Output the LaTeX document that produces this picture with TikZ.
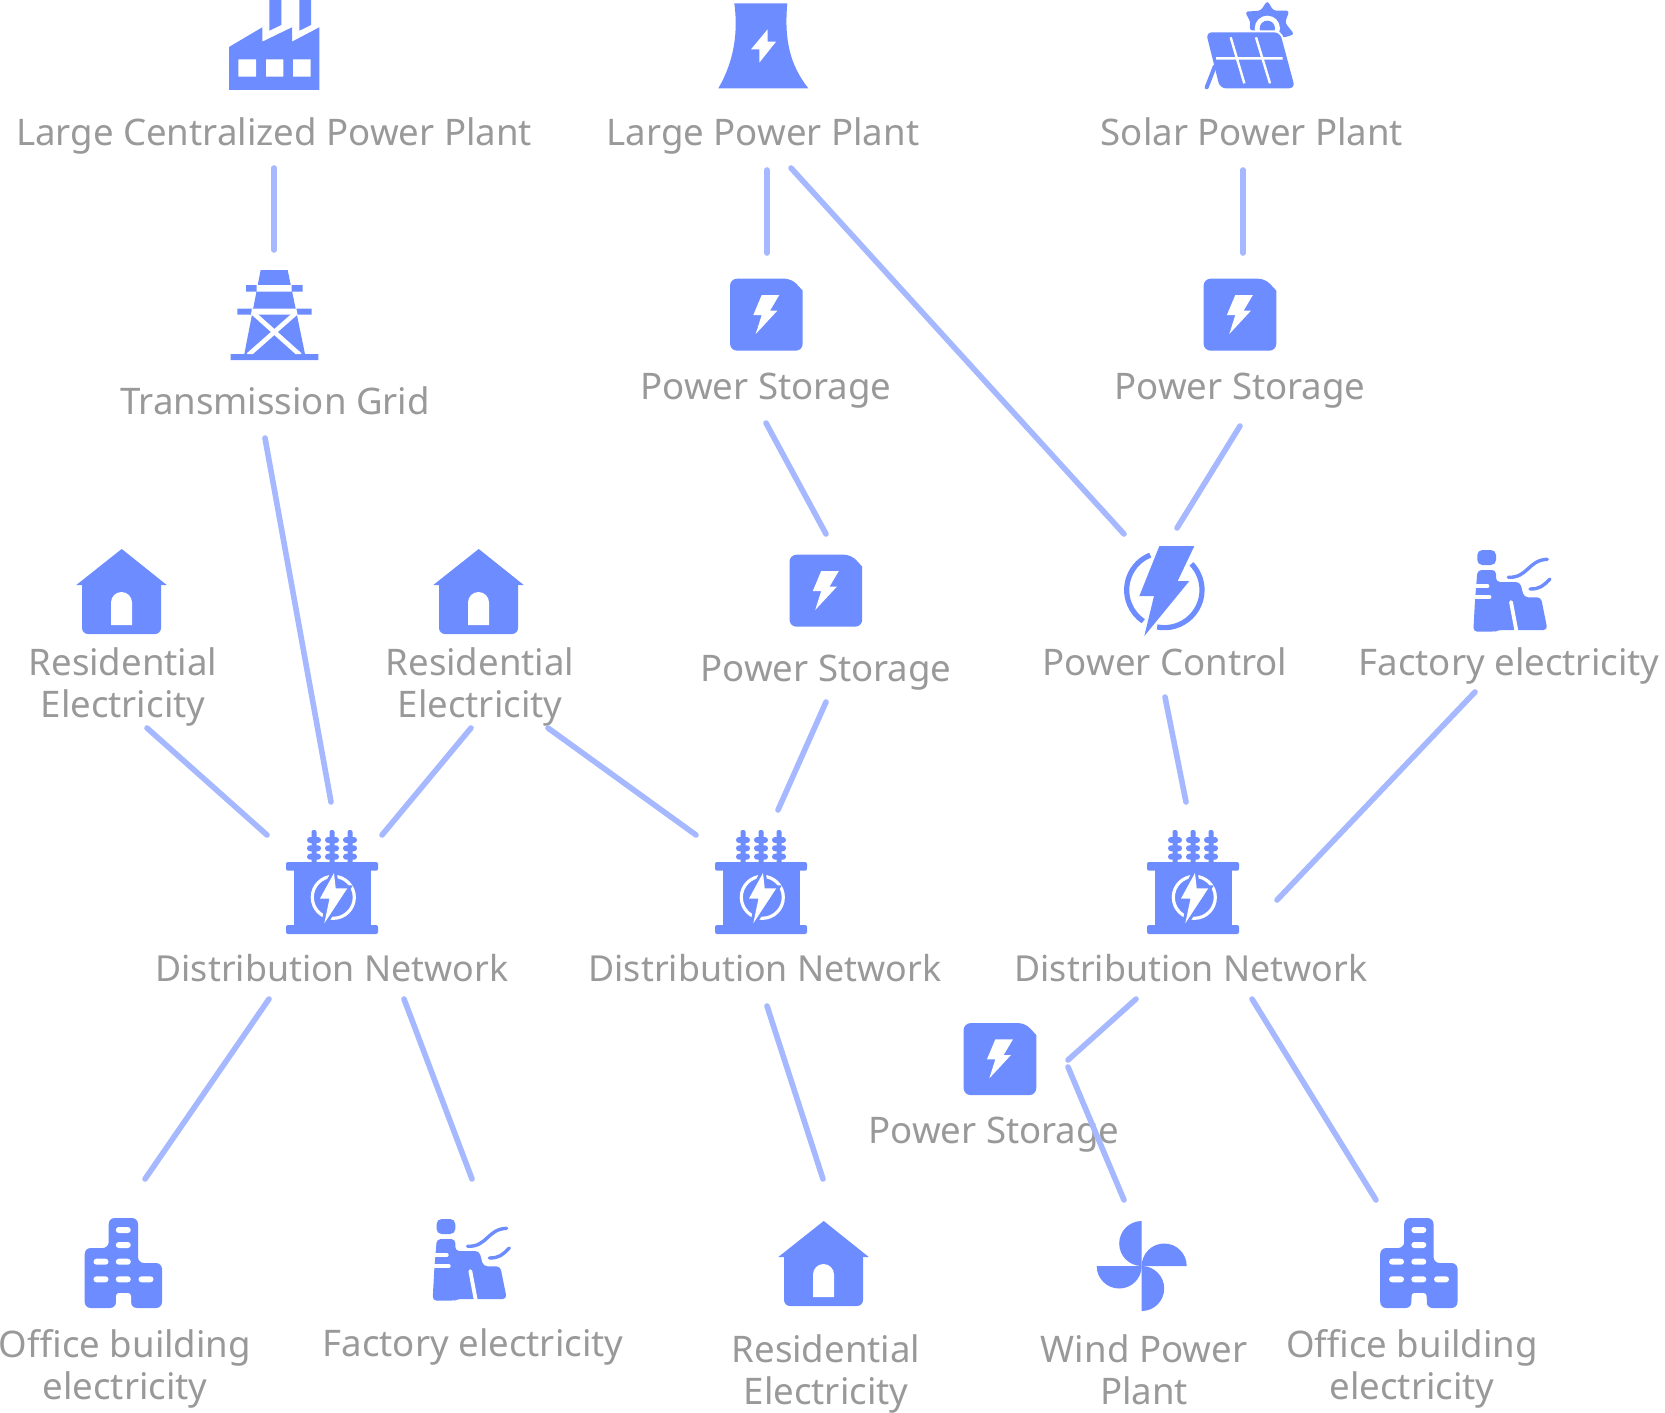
\documentclass[tikz,border=0pt]{standalone}
\usepackage{fontspec}
\setmainfont{Noto Sans}
\definecolor{iconblue}{HTML}{6C8CFF}
\definecolor{linkblue}{HTML}{A6B8FF}
\definecolor{labelgrey}{HTML}{999999}
\tikzset{
  x=0.5pt,y=-0.5pt,
  lbl/.style={text=labelgrey,align=center,inner sep=0pt,font=\fontsize{18.3}{21.2}\selectfont},
  link/.style={draw=linkblue,line width=2.8pt,line cap=round},
  bluefill/.style={fill=iconblue,draw=none},
  whitefill/.style={fill=white,draw=none},
  houseicon/.pic={
    \path[bluefill] (51.7,9)--(96.7,45)--(6.3,45)--cycle;
    \path[bluefill,rounded corners=3pt] (12,40)--(91,40)--(91,94)--(12,94)--cycle;
    \path[whitefill] (41,85)--(41,62.5) arc (180:360:10.5)--(62,85)--cycle;
  },
  buildingicon/.pic={
    \path[bluefill,rounded corners=3pt] (38.7,8)--(68,8)--(68,53)--(92,53)--(92,98)--(61,98)--(61,83)--(46,83)--(46,98)--(14.7,98)--(14.7,38)--(38.7,38)--cycle;
    \path[whitefill,rounded corners=1.5pt] (46,98.5) rectangle (61,83);
    \foreach \cx/\cy in {53.3/20,53.3/35,53.3/51.7,53.3/69.3,31/51.7,31/69.3,76/69.3}{
      \path[whitefill,rounded corners=1.5pt] (\cx-7.5,\cy-3) rectangle (\cx+7.5,\cy+3);
    }
  },
  transformericon/.pic={
    \foreach \cx in {44,62,80}{
      \path[bluefill,rounded corners=1pt] (\cx-2.5,10) rectangle (\cx+2.5,44);
      \foreach \cy in {20,28.3,36.7}{
        \path[bluefill,rounded corners=1.5pt] (\cx-7,\cy-3) rectangle (\cx+7,\cy+3);
      }
    }
    \path[bluefill,rounded corners=1pt] (16,42) rectangle (108,50.7);
    \path[bluefill,rounded corners=1pt] (16,105) rectangle (108,114);
    \path[bluefill] (24,44) rectangle (101,110);
    \draw[draw=white,line width=1.6pt] (63.3,77.3) circle[radius=21];
    \path[fill=iconblue,draw=iconblue,line width=3pt,miter limit=3] (64,53)--(50,78.5)--(59.5,78.5)--(54.3,103.3)--(77.3,68.3)--(65.7,68.3)--cycle;
    \path[whitefill] (64,53)--(50,78.5)--(59.5,78.5)--(54.3,103.3)--(77.3,68.3)--(65.7,68.3)--cycle;
  },
  storageicon/.pic={
    \path[bluefill,rounded corners=3.5pt] (10,8.7)--(71.7,8.7)[sharp corners]--(82.7,20.7)[rounded corners=3.5pt]--(82.7,80.7)--(10,80.7)--cycle;
    \path[whitefill] (41.7,25)--(59.3,25)--(50,40.7)--(57.3,40.7)--(35.7,64)--(41.7,45)--(33.3,45)--cycle;
  },
  factoryicon/.pic={
    \path[bluefill,rounded corners=2.5pt] (17.3,10) rectangle (36,25);
    \path[bluefill,rounded corners=2pt] (17.5,30)--(36,30)--(36,42)--(60,42)--(64,57.3)--(81,57.3)--(87.5,90)--(38,90)--(35,91.7)--(13.3,91.7)--(15,60)--cycle;
    \draw[draw=white,line width=1.9pt,line cap=round] (12,46)--(27.5,46);
    \draw[draw=white,line width=1.9pt,line cap=round] (12,57)--(29.5,57);
    \draw[draw=white,line width=1.9pt,line cap=round] (51,62)--(57,94);
    \draw[draw=iconblue,line width=1.7pt,line cap=round] (48.3,37.3) .. controls (68,38) and (68,20) .. (87.3,19.3);
    \draw[draw=iconblue,line width=1.7pt,line cap=round] (70,49) .. controls (80,49) and (83,46) .. (90,39);
  },
}
\begin{document}
\begin{tikzpicture}
\useasboundingbox (0,0) rectangle (1665,1413);

% large centralized plant
\begin{scope}[shift={(200,0)}]
  \path[bluefill] (29,47)--(62.3,27.3)--(62.3,41.7)--(92,27.3)--(92,41.7)--(119.3,27.3)--(119.3,90)--(29,90)--cycle;
  \path[whitefill] (38.3,59.3) rectangle (56,76.7) (66,59.3) rectangle (83.3,76.7) (93,59.3) rectangle (110.7,76.7);
  \path[bluefill] (69.3,0)--(81.3,0)--(81.3,25)--(69.3,30.7)--cycle;
  \path[bluefill] (99.3,0)--(111,0)--(111,25)--(99.3,30.7)--cycle;
\end{scope}

% cooling tower
\begin{scope}[shift={(700,0)}]
  \path[bluefill] (34.3,3.3)--(87.3,3.3) .. controls (84,40) and (90,65) .. (108.3,88.3)--(18.3,88.3) .. controls (35,60) and (38,30) .. (34.3,3.3)--cycle;
  \path[whitefill] (67.7,29.3)--(51,49.3)--(59.3,49.3)--(59.3,62.7)--(76,41.7)--(67.7,41.7)--cycle;
\end{scope}

% solar plant
\begin{scope}[shift={(1190,0)},x=0.16667pt,y=-0.16667pt]
  \path[bluefill,rounded corners=1.5pt] (232,2)--(250,32)--(298,32)--(285,68)--(313,103)--(280,113)--(178,90)--(182,68)--(165,35)--(212,32)--cycle;
  \path[whitefill] (232,85) circle[radius=38];
  \path[bluefill] (232,85) circle[radius=23];
  \path[fill=white,draw=white,line width=2pt,rounded corners=3pt] (48,97)--(270,97)--(315,265)--(90,265)--cycle;
  \path[bluefill,rounded corners=3pt] (48,97)--(270,97)--(315,265)--(90,265)--cycle;
  \draw[draw=white,line width=1.2pt] (78,175)--(278,175) (122,112)--(163,250) (198,112)--(240,250);
  \draw[draw=iconblue,line width=2pt,line cap=round] (74,200)--(50,262);
\end{scope}

% pylon
\begin{scope}[shift={(210,260)},x=0.16667pt,y=-0.16667pt]
  \path[bluefill] (152,30)--(233,30)--(285,282)--(103,282)--cycle;
  \path[bluefill] (108,75) rectangle (278,95) (82,146) rectangle (305,164) (62,282) rectangle (325,300);
  \path[whitefill] (140,75) rectangle (245,95) (125,146) rectangle (260,164);
  \begin{scope}
    \clip (125,150)--(260,150)--(285,282)--(103,282)--cycle;
    \draw[draw=white,line width=2.3pt] (125,155)--(270,285) (262,155)--(115,285);
  \end{scope}
\end{scope}

% power control
\begin{scope}[shift={(1110,540)},x=0.16667pt,y=-0.16667pt]
  \path[bluefill] (148,18)--(253,18)--(203,123)--(238,123)--(103,288)--(132,168)--(88,168)--cycle;
  \draw[draw=iconblue,line width=2.6pt] (163,150) ++(248:113) arc (248:124:113);
  \draw[draw=iconblue,line width=2.6pt] (163,150) ++(-44:113) arc (-44:101:113);
\end{scope}

% wind plant
\begin{scope}[shift={(1085,1210)}]
  \path[bluefill] (56.7,11) arc (-90:-270:22.5)--cycle;
  \path[bluefill] (56.7,56) arc (180:360:22.5)--cycle;
  \path[bluefill] (11.7,56) arc (180:0:22.5)--cycle;
  \path[bluefill] (56.7,56) arc (-90:90:22.5)--cycle;
\end{scope}

\pic (houseA) at (70,540) {houseicon};
\pic (houseB) at (427,540) {houseicon};
\pic (houseC) at (772,1212) {houseicon};
\pic (buildingA) at (70,1210) {buildingicon};
\pic (buildingB) at (1365.5,1210) {buildingicon};
\pic (transA) at (270,820) {transformericon};
\pic (transB) at (699,820) {transformericon};
\pic (transC) at (1131,820) {transformericon};
\pic (storeA) at (720,270) {storageicon};
\pic (storeB) at (1193.6,270) {storageicon};
\pic (storeC) at (779.5,546) {storageicon};
\pic (storeD) at (953.6,1014.4) {storageicon};
\pic (factA) at (1460,540) {factoryicon};
\pic (factB) at (419.3,1209) {factoryicon};

% labels
\node[lbl] (tLCP) at (274,137) {Large Centralized Power Plant\strut};
\node[lbl] (tLP) at (763,137) {Large Power Plant\strut};
\node[lbl] (tSP) at (1252,137) {Solar Power Plant\strut};
\node[lbl] (tTG) at (275,406) {Transmission Grid\strut};
\node[lbl] (tPS1) at (766,391) {Power Storage\strut};
\node[lbl] (tPS2) at (1240,391) {Power Storage\strut};
\node[lbl] (tRE1) at (123,688) {Residential\strut\\Electricity\strut};
\node[lbl] (tRE2) at (480,688) {Residential\strut\\Electricity\strut};
\node[lbl] (tPS3) at (826,673) {Power Storage\strut};
\node[lbl] (tPC) at (1165,667) {Power Control\strut};
\node[lbl] (tFE1) at (1509,667) {Factory electricity\strut};
\node[lbl,font=\fontsize{17.9}{21.2}\selectfont] (tDN1) at (332,973) {Distribution Network\strut};
\node[lbl,font=\fontsize{17.9}{21.2}\selectfont] (tDN2) at (765,973) {Distribution Network\strut};
\node[lbl,font=\fontsize{17.9}{21.2}\selectfont] (tDN3) at (1191,973) {Distribution Network\strut};
\node[lbl] (tPS4) at (994,1135) {Power Storage\strut};
\node[lbl] (tOB1) at (125,1370) {Office building\strut\\electricity\strut};
\node[lbl] (tFE2) at (473,1348) {Factory electricity\strut};
\node[lbl] (tRE3) at (826,1375) {Residential\strut\\Electricity\strut};
\node[lbl] (tWP) at (1144,1375) {Wind Power\strut\\Plant\strut};
\node[lbl] (tOB2) at (1412,1370) {Office building\strut\\electricity\strut};

% connector ends
\coordinate (a1) at (274,168); \coordinate (b1) at (274,250);
\coordinate (a2) at (767,170); \coordinate (b2) at (767,253);
\coordinate (a3) at (791,168); \coordinate (b3) at (1124,534);
\coordinate (a4) at (1243,170); \coordinate (b4) at (1243,253);
\coordinate (a5) at (1240,426); \coordinate (b5) at (1177,528);
\coordinate (a6) at (766,423); \coordinate (b6) at (826,534);
\coordinate (a7) at (265,438); \coordinate (b7) at (331,802);
\coordinate (a8) at (147,728); \coordinate (b8) at (267,835);
\coordinate (a9) at (471,728); \coordinate (b9) at (382,835);
\coordinate (a10) at (548,728); \coordinate (b10) at (696,835);
\coordinate (a11) at (826,702); \coordinate (b11) at (778,810);
\coordinate (a12) at (1165,697); \coordinate (b12) at (1186,802);
\coordinate (a13) at (1475,692); \coordinate (b13) at (1277,900);
\coordinate (a14) at (269,999); \coordinate (b14) at (145,1179);
\coordinate (a15) at (404,999); \coordinate (b15) at (472,1179);
\coordinate (a16) at (767,1006); \coordinate (b16) at (823,1179);
\coordinate (a17) at (1136,999); \coordinate (b17) at (1068,1060);
\coordinate (a18) at (1068,1067); \coordinate (b18) at (1124,1200);
\coordinate (a19) at (1252,999); \coordinate (b19) at (1376,1200);
\foreach \i in {1,...,19}{ \draw[link] (a\i) -- (b\i); }
\end{tikzpicture}
\end{document}
